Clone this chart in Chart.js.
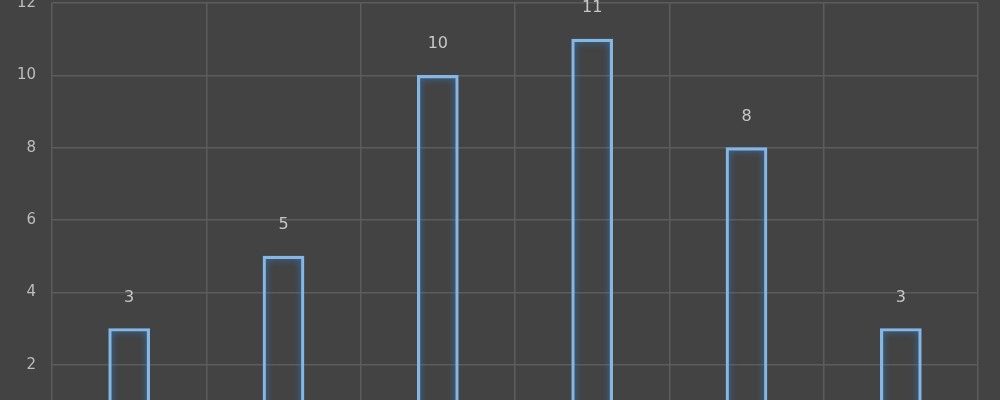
<!DOCTYPE html>
<html>
<head>
<meta charset="utf-8">
<script src="https://cdn.jsdelivr.net/npm/chart.js@4/dist/chart.umd.min.js"></script>
<style>
  html, body { margin: 0; padding: 0; background: #434343; overflow: hidden; }
  #wrap { position: relative; width: 1000px; height: 400px; overflow: hidden; background: #434343; }
  #box { position: absolute; left: 0; top: -22px; width: 1000px; height: 484px; }
</style>
</head>
<body>
<div id="wrap"><div id="box"><canvas id="c"></canvas></div></div>
<script>
const categories = ['A', 'B', 'C', 'D', 'E', 'F'];
const values = [3, 5, 10, 11, 8, 3];
const yTicks = [0, 2, 4, 6, 8, 10, 12];

const glowPlugin = {
  id: 'glow',
  beforeDatasetsDraw(chart) {
    const ctx = chart.ctx;
    ctx.save();
    ctx.shadowColor = 'rgba(50,130,210,0.9)';
    ctx.shadowBlur = 7;
  },
  afterDatasetsDraw(chart) {
    chart.ctx.restore();
  }
};

const labelPlugin = {
  id: 'valueLabels',
  afterDatasetsDraw(chart) {
    const ctx = chart.ctx;
    const meta = chart.getDatasetMeta(0);
    ctx.save();
    ctx.fillStyle = '#c8c8c8';
    ctx.font = '16px "DejaVu Sans", sans-serif';
    ctx.textAlign = 'center';
    ctx.textBaseline = 'middle';
    meta.data.forEach((bar, i) => {
      ctx.fillText(String(values[i]), bar.x, bar.y - 31);
    });
    ctx.restore();
  }
};

new Chart(document.getElementById('c'), {
  type: 'bar',
  data: {
    labels: categories,
    datasets: [{
      data: values,
      backgroundColor: 'rgba(67,67,67,0)',
      borderColor: '#86b6e4',
      borderWidth: 2.5,
      borderSkipped: false,
      barThickness: 41
    }]
  },
  options: {
    responsive: true,
    maintainAspectRatio: false,
    animation: false,
    layout: { padding: { top: 18, right: 22, left: 0, bottom: 24 } },
    plugins: { legend: { display: false }, tooltip: { enabled: false } },
    scales: {
      x: {
        grid: { color: '#5c5c5c', lineWidth: 1.5, offset: true, drawTicks: false },
        border: { display: false },
        ticks: { display: false }
      },
      y: {
        min: 0,
        max: 12,
        afterBuildTicks(scale) { scale.ticks = yTicks.map(v => ({ value: v })); },
        afterFit(scale) { scale.width = 52; },
        grid: { color: '#5c5c5c', lineWidth: 1.5, drawTicks: false },
        border: { display: false },
        ticks: {
          color: '#bdbdbd',
          padding: 16,
          font: { size: 15, family: '"DejaVu Sans", sans-serif' }
        }
      }
    }
  },
  plugins: [glowPlugin, labelPlugin]
});
</script>
</body>
</html>
